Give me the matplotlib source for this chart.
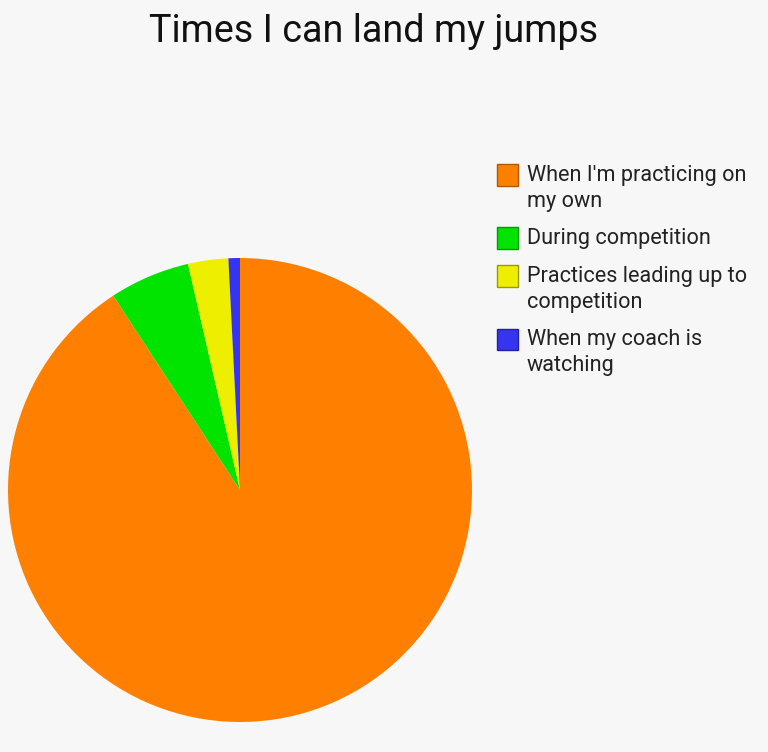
import matplotlib
matplotlib.use("Agg")
import matplotlib.pyplot as plt
from matplotlib.patches import Rectangle

plt.rcParams["font.family"] = ["Roboto", "DejaVu Sans"]

# Daten (aus dem Bild geschätzt, Winkelanteile)
labels = ["When I'm practicing on\nmy own", "During competition",
          "Practices leading up to\ncompetition", "When my coach is\nwatching"]
values = [90.8, 5.6, 2.8, 0.8]
colors = ["#ff8000", "#00e400", "#eeee00", "#3535f0"]
edge_colors = ["#b05800", "#009a00", "#9a9a00", "#2020a0"]

BG = "#f7f7f7"
W, H = 768, 752

fig = plt.figure(figsize=(W / 100, H / 100), dpi=100, facecolor=BG)
ax = fig.add_axes([8 / W, 1 - 722 / H, 464 / W, 464 / H])
ax.set_facecolor(BG)
ax.pie(values, colors=colors, startangle=90, counterclock=False,
       radius=1.0, wedgeprops=dict(linewidth=0))
ax.set_xlim(-1, 1)
ax.set_ylim(-1, 1)
ax.set_aspect("equal")
ax.axis("off")

fig.text(374 / W, 1 - 31 / H, "Times I can land my jumps", ha="center",
         va="center", fontsize=27.2, color="#111111")

# Legende von Hand: Kästchen auf Höhe der ersten Textzeile
y = 175          # Pixel, Mitte der ersten Zeile
line_step = 25
entry_gap = 13
box = 21
for lab, c, e in zip(labels, colors, edge_colors):
    fig.patches.append(Rectangle((497 / W, 1 - (y + box / 2) / H), box / W, box / H,
                                 transform=fig.transFigure, facecolor=c,
                                 edgecolor=e, linewidth=1.0))
    fig.text(527 / W, 1 - (y - 10) / H, lab, ha="left", va="top",
             fontsize=15.6, color="#222222", linespacing=1.3)
    y += line_step * (lab.count("\n") + 1) + entry_gap

fig.savefig("out.png", dpi=100, facecolor=BG)
